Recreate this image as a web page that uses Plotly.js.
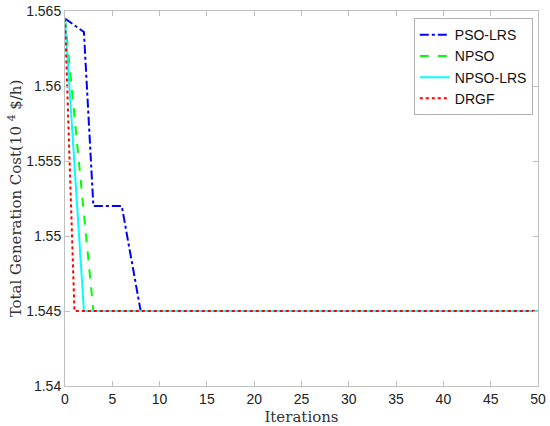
<!DOCTYPE html>
<html>
<head>
<meta charset="utf-8">
<script src="https://cdn.plot.ly/plotly-3.0.1.min.js"></script>
<style>
  body { margin: 0; background: #fff; }
  #chart { width: 550px; height: 426px; }
</style>
</head>
<body>
<div id="chart"></div>
<script>
// breakpoints of each convergence curve (iteration, cost in 10^4 $/h)
const psoLrsX = [0, 2, 3, 6, 8, 50];
const psoLrsY = [1.5645, 1.5636, 1.5520, 1.5520, 1.5450, 1.5450];

const npsoX = [0, 3, 50];
const npsoY = [1.5645, 1.5450, 1.5450];

const npsoLrsX = [0, 2, 50];
const npsoLrsY = [1.5645, 1.5450, 1.5450];

const drgfX = [0, 1, 50];
const drgfY = [1.5645, 1.5450, 1.5450];

const yTickVals = [1.54, 1.545, 1.55, 1.555, 1.56, 1.565];
const yTickText = ['1.54', '1.545', '1.55', '1.555', '1.56', '1.565'];
const xTickVals = [0, 5, 10, 15, 20, 25, 30, 35, 40, 45, 50];

var traces = [
    { x: psoLrsX, y: psoLrsY, name: 'PSO-LRS', mode: 'lines',
      line: { color: '#0000ff', width: 2, dash: 'dashdot' } },
    { x: npsoX, y: npsoY, name: 'NPSO', mode: 'lines',
      line: { color: '#00ff00', width: 2, dash: 'dash' } },
    { x: npsoLrsX, y: npsoLrsY, name: 'NPSO-LRS', mode: 'lines',
      line: { color: '#00ffff', width: 2, dash: 'solid' } },
    { x: drgfX, y: drgfY, name: 'DRGF', mode: 'lines',
      line: { color: '#ff0000', width: 2, dash: 'dot' } }
];

var titleFont = { family: 'DejaVu Serif, Liberation Serif, serif', size: 15, color: '#333' };

var axisCommon = {
    showgrid: false,
    zeroline: false,
    showline: true,
    linecolor: '#c0c0c0',
    linewidth: 1,
    mirror: 'ticks',
    ticks: 'inside',
    ticklen: 5,
    tickcolor: '#c0c0c0',
    automargin: false,
    tickfont: { family: 'Liberation Sans, Arial, sans-serif', size: 14, color: '#222' }
};

var layout = {
    width: 550,
    height: 426,
    margin: { l: 65, r: 12, t: 11, b: 40 },
    paper_bgcolor: '#fff',
    plot_bgcolor: '#fff',
    showlegend: true,
    xaxis: Object.assign({}, axisCommon, {
        range: [0, 50],
        tickvals: xTickVals,
        title: { text: 'Iterations', standoff: 6, font: titleFont }
    }),
    yaxis: Object.assign({}, axisCommon, {
        range: [1.54, 1.565],
        tickvals: yTickVals,
        ticktext: yTickText,
        title: { text: 'Total Generation Cost(10 <sup>4</sup> $/h)', standoff: 0, font: titleFont }
    }),
    legend: {
        x: 0.989, y: 0.981, xanchor: 'right', yanchor: 'top',
        bgcolor: '#fff',
        bordercolor: '#b0b0b0',
        borderwidth: 1,
        tracegroupgap: 0,
        font: { family: 'Liberation Sans, Arial, sans-serif', size: 14, color: '#111' }
    }
};

Plotly.newPlot('chart', traces, layout, { displayModeBar: false, staticPlot: true });
</script>
</body>
</html>
